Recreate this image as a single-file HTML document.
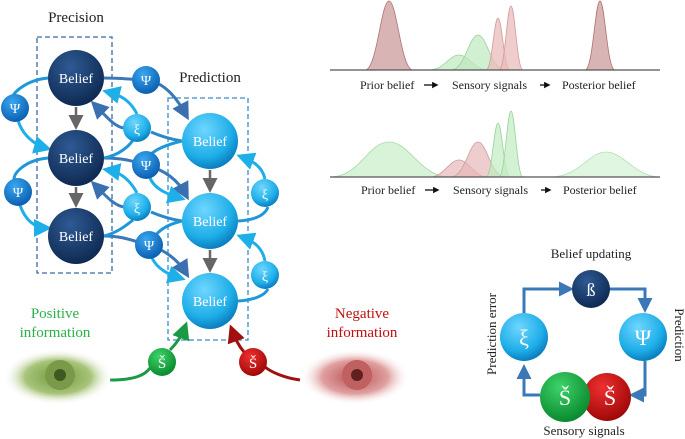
<!DOCTYPE html>
<html><head><meta charset="utf-8"><style>
body{margin:0;background:#fff;}
svg{display:block;font-family:"Liberation Serif",serif;}
</style></head><body>
<svg width="685" height="439" viewBox="0 0 685 439" xmlns="http://www.w3.org/2000/svg">
<defs>
<radialGradient id="dk" cx="40%" cy="30%" r="70%"><stop offset="0" stop-color="#2f5a94"/><stop offset="1" stop-color="#0f2a52"/></radialGradient>
<radialGradient id="lt" cx="40%" cy="30%" r="70%"><stop offset="0" stop-color="#6fd6ff"/><stop offset="0.7" stop-color="#1eaee8"/><stop offset="1" stop-color="#0b7fc0"/></radialGradient>
<radialGradient id="md" cx="40%" cy="30%" r="70%"><stop offset="0" stop-color="#3aa8f0"/><stop offset="1" stop-color="#0b5fb0"/></radialGradient>
<radialGradient id="gr" cx="40%" cy="30%" r="70%"><stop offset="0" stop-color="#3ed36a"/><stop offset="1" stop-color="#0a8a2e"/></radialGradient>
<radialGradient id="rd" cx="40%" cy="30%" r="70%"><stop offset="0" stop-color="#ee3030"/><stop offset="1" stop-color="#a00808"/></radialGradient>
<radialGradient id="eyeg" cx="50%" cy="50%" r="50%"><stop offset="0" stop-color="#6f9a3a"/><stop offset="0.6" stop-color="#a8c47a"/><stop offset="1" stop-color="#fff" stop-opacity="0"/></radialGradient>
<radialGradient id="eyer" cx="50%" cy="50%" r="50%"><stop offset="0" stop-color="#b85050"/><stop offset="0.6" stop-color="#e0a0a0"/><stop offset="1" stop-color="#fff" stop-opacity="0"/></radialGradient>
<marker id="ab" markerWidth="6" markerHeight="6" refX="4" refY="3" orient="auto"><path d="M0,0L6,3L0,6z" fill="#1eaee8"/></marker>
<marker id="ad" markerWidth="6" markerHeight="6" refX="4" refY="3" orient="auto"><path d="M0,0L6,3L0,6z" fill="#3a70b0"/></marker>
<marker id="ag" markerWidth="6" markerHeight="6" refX="4" refY="3" orient="auto"><path d="M0,0L6,3L0,6z" fill="#666"/></marker>
<marker id="agr" markerWidth="6" markerHeight="6" refX="4" refY="3" orient="auto"><path d="M0,0L6,3L0,6z" fill="#1a9a44"/></marker>
<marker id="ard" markerWidth="6" markerHeight="6" refX="4" refY="3" orient="auto"><path d="M0,0L6,3L0,6z" fill="#a01010"/></marker>
<marker id="ac" markerWidth="5" markerHeight="5" refX="3" refY="2.5" orient="auto"><path d="M0,0L5,2.5L0,5z" fill="#3a78b8"/></marker>
<marker id="ak" markerWidth="5" markerHeight="5" refX="3" refY="2.5" orient="auto"><path d="M0,0L5,2.5L0,5z" fill="#111"/></marker>
</defs>

<text x="76" y="22" font-size="15" text-anchor="middle" fill="#222">Precision</text>
<text x="210" y="82" font-size="15" text-anchor="middle" fill="#222">Prediction</text>
<rect x="37" y="37" width="75" height="236" fill="none" stroke="#3a6aa0" stroke-width="1.3" stroke-dasharray="5,3"/>
<rect x="168" y="98" width="80" height="242" fill="none" stroke="#3a8ad0" stroke-width="1.3" stroke-dasharray="5,3"/>

<g fill="none" stroke-width="3">
<path d="M48,78 C25,80 10,95 12,100" stroke="#1e98d8"/>
<path d="M18,120 C22,135 35,145 46,148" stroke="#1eaee8" marker-end="url(#ab)"/>
<path d="M48,158 C25,160 10,175 15,182" stroke="#1e98d8"/>
<path d="M20,205 C25,220 35,228 46,228" stroke="#1eaee8" marker-end="url(#ab)"/>
<path d="M104,78 C125,78 135,80 146,80 C165,82 178,100 186,115" stroke="#3a78b8" marker-end="url(#ad)"/>
<path d="M104,158 C125,158 135,162 146,165 C165,170 178,180 186,195" stroke="#3a78b8" marker-end="url(#ad)"/>
<path d="M104,236 C125,236 135,242 149,245 C165,250 178,260 186,273" stroke="#3a78b8" marker-end="url(#ad)"/>
<path d="M137,114 C130,100 120,95 108,92" stroke="#1eaee8" marker-end="url(#ab)"/>
<path d="M125,128 C115,128 105,115 95,105" stroke="#3a78b8" marker-end="url(#ad)"/>
<path d="M151,132 C165,138 175,140 182,141" stroke="#2a88c8"/>
<path d="M137,193 C130,180 120,172 108,170" stroke="#1eaee8" marker-end="url(#ab)"/>
<path d="M125,207 C115,207 105,195 95,185" stroke="#3a78b8" marker-end="url(#ad)"/>
<path d="M151,212 C165,218 175,220 182,221" stroke="#2a88c8"/>
<path d="M104,158 C120,155 130,145 133,140" stroke="#1e98d8"/>
<path d="M104,236 C120,232 130,222 133,220" stroke="#1e98d8"/>
<path d="M182,141 C165,145 155,150 150,155" stroke="#1e98d8"/>
<path d="M182,221 C165,225 158,232 155,236" stroke="#1e98d8"/>
<path d="M150,178 C155,190 170,195 180,198" stroke="#1eaee8" marker-end="url(#ab)"/>
<path d="M152,258 C158,270 170,275 180,278" stroke="#1eaee8" marker-end="url(#ab)"/>
<path d="M265,179 C262,165 250,160 242,157" stroke="#1eaee8" marker-end="url(#ab)"/>
<path d="M238,221 C255,220 265,215 268,207" stroke="#1e98d8"/>
<path d="M265,261 C262,245 250,240 242,237" stroke="#1eaee8" marker-end="url(#ab)"/>
<path d="M238,301 C255,300 265,295 268,289" stroke="#1e98d8"/>
<path d="M110,380 C135,380 145,375 150,368" stroke="#1a9a44"/>
<path d="M170,350 C178,342 182,335 185,327" stroke="#1a9a44" marker-end="url(#agr)"/>
<path d="M300,380 C285,378 270,372 264,366" stroke="#a01010"/>
<path d="M244,352 C238,345 235,338 232,330" stroke="#a01010" marker-end="url(#ard)"/>
</g>
<g stroke="#666" stroke-width="2.5" fill="none">
<path d="M76,107 L76,125" marker-end="url(#ag)"/>
<path d="M76,187 L76,203" marker-end="url(#ag)"/>
<path d="M210,170 L210,188" marker-end="url(#ag)"/>
<path d="M210,250 L210,268" marker-end="url(#ag)"/>
</g>

<g font-size="14" fill="#fff" text-anchor="middle">
<circle cx="76" cy="78" r="28" fill="url(#dk)"/><text x="76" y="83" fill="#fff">Belief</text>
<circle cx="76" cy="158" r="28" fill="url(#dk)"/><text x="76" y="163" fill="#fff">Belief</text>
<circle cx="76" cy="236" r="28" fill="url(#dk)"/><text x="76" y="241" fill="#fff">Belief</text>
<circle cx="210" cy="141" r="28" fill="url(#lt)"/><text x="210" y="146" fill="#fff">Belief</text>
<circle cx="210" cy="221" r="28" fill="url(#lt)"/><text x="210" y="226" fill="#fff">Belief</text>
<circle cx="210" cy="301" r="28" fill="url(#lt)"/><text x="210" y="306" fill="#fff">Belief</text>
</g>
<g font-size="14" fill="#fff" text-anchor="middle">
<circle cx="15" cy="108" r="14" fill="url(#md)"/><text x="15" y="113" fill="#fff">Ψ</text>
<circle cx="18" cy="192" r="14" fill="url(#md)"/><text x="18" y="197" fill="#fff">Ψ</text>
<circle cx="146" cy="80" r="14" fill="url(#md)"/><text x="146" y="85" fill="#fff">Ψ</text>
<circle cx="146" cy="165" r="14" fill="url(#md)"/><text x="146" y="170" fill="#fff">Ψ</text>
<circle cx="149" cy="245" r="14" fill="url(#md)"/><text x="149" y="250" fill="#fff">Ψ</text>
<circle cx="137" cy="128" r="14" fill="url(#lt)"/><text x="137" y="134" fill="#fff">ξ</text>
<circle cx="137" cy="207" r="14" fill="url(#lt)"/><text x="137" y="213" fill="#fff">ξ</text>
<circle cx="265" cy="193" r="14" fill="url(#lt)"/><text x="265" y="199" fill="#fff">ξ</text>
<circle cx="265" cy="275" r="14" fill="url(#lt)"/><text x="265" y="281" fill="#fff">ξ</text>
<circle cx="162" cy="362" r="14" fill="url(#gr)"/><text x="162" y="368" fill="#fff" font-size="15">Š</text>
<circle cx="253" cy="362" r="14" fill="url(#rd)"/><text x="253" y="368" fill="#fff" font-size="15">Š</text>
</g>
<text x="55" y="318" font-size="15" fill="#2ab04a" text-anchor="middle">Positive</text>
<text x="55" y="337" font-size="15" fill="#2ab04a" text-anchor="middle">information</text>
<text x="362" y="318" font-size="15" fill="#c01010" text-anchor="middle">Negative</text>
<text x="362" y="337" font-size="15" fill="#c01010" text-anchor="middle">information</text>

<ellipse cx="58" cy="377" rx="55" ry="28" fill="url(#eyeg)"/>
<ellipse cx="60" cy="375" rx="15" ry="15" fill="#7a9a4a"/><circle cx="60" cy="375" r="6" fill="#3d5a20"/>
<ellipse cx="355" cy="377" rx="55" ry="28" fill="url(#eyer)"/>
<ellipse cx="357" cy="375" rx="15" ry="15" fill="#c06060"/><circle cx="357" cy="375" r="6" fill="#602020"/>

<g stroke-width="0.8">
<path d="M365,70 C377,70 381,1 389,1 C397,1 401,70 413,70Z" fill="#c99494" fill-opacity="0.7" stroke="#b07070"/>
<path d="M429,70 C444,70 449,55 459,55 C469,55 474,70 489,70Z" fill="#bde8bd" fill-opacity="0.7" stroke="#9ad09a"/>
<path d="M451,70 C465,70 469,35 478,35 C487,35 491,70 505,70Z" fill="#bde8bd" fill-opacity="0.7" stroke="#9ad09a"/>
<path d="M486,70 C492,70 494,18 498,18 C502,18 504,70 510,70Z" fill="#eab8b8" fill-opacity="0.7" stroke="#d09a9a"/>
<path d="M499,70 C505,70 507,6 511,6 C515,6 517,70 523,70Z" fill="#eab8b8" fill-opacity="0.7" stroke="#d09a9a"/>
<path d="M585,70 C593,70 595,1 600,1 C605,1 607,70 615,70Z" fill="#c99494" fill-opacity="0.7" stroke="#b07070"/>
</g>
<line x1="330" y1="70" x2="660" y2="70" stroke="#555" stroke-width="1.2"/>
<g font-size="12" fill="#222">
<text x="360" y="89">Prior belief</text>
<text x="452" y="89">Sensory signals</text>
<text x="562" y="89">Posterior belief</text>
<text x="361" y="194">Prior belief</text>
<text x="453" y="194">Sensory signals</text>
<text x="563" y="194">Posterior belief</text>
</g>
<path d="M424,85 L436,85" stroke="#111" stroke-width="1.3" marker-end="url(#ak)"/>
<path d="M540,85 L548,85" stroke="#111" stroke-width="1.3" marker-end="url(#ak)"/>
<path d="M425,190 L437,190" stroke="#111" stroke-width="1.3" marker-end="url(#ak)"/>
<path d="M541,190 L549,190" stroke="#111" stroke-width="1.3" marker-end="url(#ak)"/>

<g stroke-width="0.8">
<path d="M330,177 C360,177 368,142 389,142 C410,142 420,177 450,177Z" fill="#c8eec8" fill-opacity="0.7" stroke="#a8dca8"/>
<path d="M430,177 C444,177 449,160 459,160 C469,160 474,177 488,177Z" fill="#e6b8b8" fill-opacity="0.7" stroke="#d09a9a"/>
<path d="M451,177 C465,177 469,142 478,142 C487,142 491,177 505,177Z" fill="#e6b8b8" fill-opacity="0.7" stroke="#d09a9a"/>
<path d="M486,177 C492,177 494,123 498,123 C502,123 504,177 510,177Z" fill="#c0ecc0" fill-opacity="0.7" stroke="#9ad09a"/>
<path d="M499,177 C505,177 507,111 511,111 C515,111 517,177 523,177Z" fill="#c0ecc0" fill-opacity="0.7" stroke="#9ad09a"/>
<path d="M550,177 C580,177 588,152 606,152 C624,152 635,177 660,177Z" fill="#d4f2d4" fill-opacity="0.7" stroke="#b0e0b0"/>
</g>
<line x1="330" y1="177" x2="660" y2="177" stroke="#555" stroke-width="1.2"/>

<g fill="none" stroke="#3a78b8" stroke-width="3">
<path d="M524,313 L524,289 L568,289" marker-end="url(#ac)"/>
<path d="M609,289 L645,289 L645,307" marker-end="url(#ac)"/>
<path d="M645,361 L645,395 L635,395" marker-end="url(#ac)"/>
<path d="M540,395 L524,395 L524,370" marker-end="url(#ac)"/>
</g>
<g text-anchor="middle" fill="#fff">
<circle cx="591" cy="289" r="19" fill="url(#dk)"/><text x="591" y="296" font-size="18" fill="#fff">ß</text>
<circle cx="524" cy="337" r="24" fill="url(#lt)"/><text x="524" y="345" font-size="22" fill="#fff">ξ</text>
<circle cx="643" cy="337" r="24" fill="url(#lt)"/><text x="643" y="345" font-size="22" fill="#fff">Ψ</text>
<circle cx="607" cy="397" r="24" fill="url(#rd)"/><text x="610" y="405" font-size="22" fill="#fff">Š</text>
<circle cx="565" cy="397" r="25" fill="url(#gr)"/><text x="565" y="405" font-size="22" fill="#fff">Š</text>
</g>
<g font-size="13" fill="#222" text-anchor="middle">
<text x="591" y="258">Belief updating</text>
<text x="584" y="435">Sensory signals</text>
<text transform="translate(496,334) rotate(-90)">Prediction error</text>
<text transform="translate(675,335) rotate(90)">Prediction</text>
</g>
</svg>
</body></html>
